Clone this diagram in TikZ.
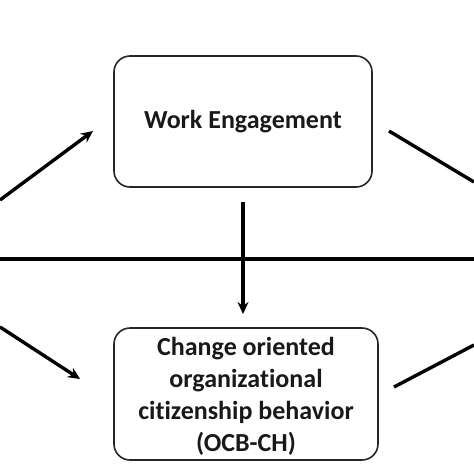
\documentclass[tikz,border=0pt]{standalone}
\usepackage{fontspec}
\setmainfont[Ligatures={NoCommon}]{Carlito}
\usetikzlibrary{arrows.meta}
\begin{document}
\begin{tikzpicture}[x=1pt,y=-1pt,
  boxstyle/.style={draw=black!85,line width=1.6pt,rounded corners=16pt,inner sep=0pt},
  txt/.style={font=\fontsize{26}{32}\selectfont\bfseries,align=center,text=black!90},
  conn/.style={line width=3.4pt},
  arr/.style={conn,-{Stealth[length=12pt,width=11pt]}}]
\useasboundingbox (0,0) rectangle (474,474);
\node[boxstyle,minimum width=258pt,minimum height=131pt] (we) at (243,121.5) {};
\node[txt] (wet) at (243,122) {Work Engagement};
\node[boxstyle,minimum width=264pt,minimum height=132pt] (ocb) at (246,394) {};
\node[txt] (ocbt) at (246,396)
  {Change oriented\\organizational\\citizenship behavior\\(OCB-CH)};
\coordinate (tl) at (0,200);
\coordinate (tlh) at (93,131);
\coordinate (tr) at (389,131);
\coordinate (trf) at (474,182);
\coordinate (vs) at (243,202);
\coordinate (ve) at (243,314);
\coordinate (hl) at (0,259);
\coordinate (hr) at (474,259);
\coordinate (bl) at (0,327);
\coordinate (blh) at (80,379);
\coordinate (br) at (394,387);
\coordinate (brf) at (474,345);
\draw[arr] (tl) -- (tlh);
\draw[conn] (tr) -- (trf);
\draw[arr] (vs) -- (ve);
\draw[conn] (hl) -- (hr);
\draw[arr] (bl) -- (blh);
\draw[conn] (br) -- (brf);
\end{tikzpicture}
\end{document}
